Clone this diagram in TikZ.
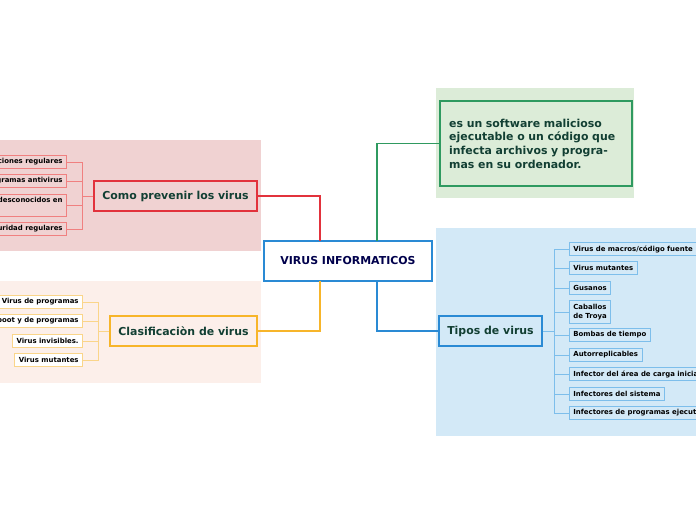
\documentclass[tikz,border=0pt]{standalone}
\usepackage{fontspec}
\setmainfont{DejaVu Sans}
\definecolor{tx}{HTML}{123F33}
\definecolor{rd}{HTML}{E2323C}\definecolor{rdbg}{HTML}{F0D2D2}\definecolor{rdl}{HTML}{F08080}
\definecolor{og}{HTML}{F7B52A}\definecolor{ogbg}{HTML}{FCEFEA}\definecolor{ogl}{HTML}{FAD58A}
\definecolor{gn}{HTML}{2F9A60}\definecolor{gnbg}{HTML}{DCECD8}
\definecolor{bl}{HTML}{2A8AD4}\definecolor{blbg}{HTML}{D3E9F7}\definecolor{bll}{HTML}{7DBEEB}
\begin{document}
\begin{tikzpicture}[x=0.75pt,y=-0.75pt,
 main/.style={draw,line width=1.3pt,fill=white,font=\bfseries\fontsize{8.2}{10}\selectfont,text=tx,inner sep=0pt,align=left},
 leaf/.style={draw,line width=0.6pt,font=\bfseries\fontsize{5.2}{7}\selectfont,text=black,inner xsep=3pt,inner ysep=0pt,minimum height=10pt,align=left},
 ln/.style={line width=0.8pt}]
\useasboundingbox (0,0) rectangle (696,520);
\clip (0,0) rectangle (696,520);
% regions
\fill[rdbg] (0,140) rectangle (261,251);
\fill[ogbg] (0,281) rectangle (261,383);
\fill[gnbg] (436,88) rectangle (634,198);
\fill[blbg] (436,228) rectangle (696,436);
% main nodes
\node[main,draw=bl,text=black!70!blue,minimum width=126pt,minimum height=30pt,align=center] (c) at (348,261) {VIRUS INFORMATICOS};
\node[main,draw=gn,fill=gnbg,minimum width=144pt,minimum height=64pt,inner xsep=6pt,anchor=north west,text width=130pt,font=\bfseries\fontsize{8.2}{10.2}\selectfont] (g) at (439,100) {\hyphenpenalty=10000\exhyphenpenalty=10000 es un software malicioso ejecutable o un código que infecta archivos y programas en su ordenador.};
\node[main,draw=bl,fill=blbg,minimum width=77pt,minimum height=22pt,align=center] (t) at (490.5,331) {Tipos de virus};
\node[main,draw=rd,fill=rdbg,minimum width=122pt,minimum height=22pt,align=center] (p) at (175.5,196) {Como prevenir los virus};
\node[main,draw=og,fill=ogbg,minimum width=110pt,minimum height=22pt,align=center] (k) at (183.5,331) {Clasificaciòn de virus};
% main connectors
\coordinate (cn) at (377,241); \coordinate (cs) at (377,281);
\coordinate (cw1) at (320,241); \coordinate (cw2) at (320,281);
\draw[ln,gn] (cn) |- (g.west);
\draw[ln,bl] (cs) |- (t.west);
\draw[ln,rd] (cw1) |- (p.east);
\draw[ln,og] (cw2) |- (k.east);
% red leaves
\begin{scope}[every node/.style={leaf,draw=rdl,fill=rdbg,anchor=east}]
\node (r1) at (67,162) {Realizar actualizaciones regulares};
\node (r2) at (67,181) {Usar programas antivirus};
\node[minimum height=16.5pt] (r3) at (67,205) {Evitar archivos desconocidos en\\ \phantom{x}};
\node (r4) at (67,229) {Copias de seguridad regulares};
\end{scope}
\coordinate (rb) at (82,196);
\draw[rdl,line width=0.6pt] (p.west) -- (rb);
\foreach \n in {r1,r2,r3,r4}{\draw[rdl,line width=0.6pt] (\n.east) -- (82,0 |- \n.east) -- (rb);}
% orange leaves
\begin{scope}[every node/.style={leaf,draw=ogl,fill=white,anchor=east}]
\node (o1) at (83,302) {Virus de programas};
\node (o2) at (83,321) {Virus de boot y de programas};
\node (o3) at (83,341) {Virus invisibles.};
\node (o4) at (83,360) {Virus mutantes};
\end{scope}
\coordinate (ob) at (98,331);
\draw[ogl,line width=0.6pt] (k.west) -- (ob);
\foreach \n in {o1,o2,o3,o4}{\draw[ogl,line width=0.6pt] (\n.east) -- (98,0 |- \n.east) -- (ob);}
% blue leaves
\begin{scope}[every node/.style={leaf,draw=bll,fill=blbg,anchor=west}]
\node (b1) at (569,249) {Virus de macros/código fuente};
\node (b2) at (569,268) {Virus mutantes};
\node (b3) at (569,288) {Gusanos};
\node[minimum height=17pt] (b4) at (569,312) {Caballos\\de Troya};
\node (b5) at (569,335) {Bombas de tiempo};
\node (b6) at (569,355) {Autorreplicables};
\node (b7) at (569,374) {Infector del área de carga inicial};
\node (b8) at (569,394) {Infectores del sistema};
\node (b9) at (569,413) {Infectores de programas ejecutables};
\end{scope}
\coordinate (bb) at (554,331);
\draw[bll,line width=0.6pt] (t.east) -- (bb);
\foreach \n in {b1,b2,b3,b4,b5,b6,b7,b8,b9}{\draw[bll,line width=0.6pt] (\n.west) -- (554,0 |- \n.west) -- (bb);}
\end{tikzpicture}
\end{document}
